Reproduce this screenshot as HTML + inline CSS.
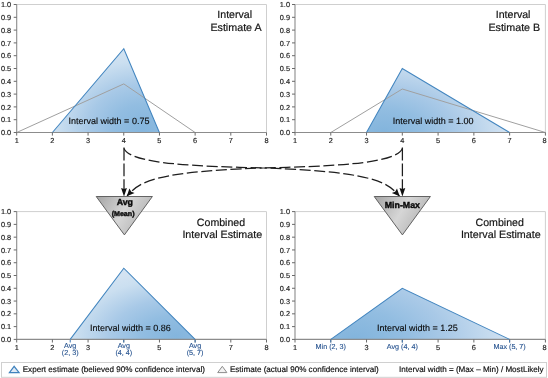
<!DOCTYPE html>
<html><head><meta charset="utf-8"><title>Interval estimates</title>
<style>
html,body{margin:0;padding:0;background:#fff;}
svg{display:block;font-family:"Liberation Sans",Arial,sans-serif;text-rendering:geometricPrecision;}
.t{font-size:7.35px;fill:#1a1a1a;stroke:#1a1a1a;stroke-width:0.15px;}
.b{font-size:7.2px;fill:#25528f;stroke:#25528f;stroke-width:0.12px;}
.h{font-size:10.6px;fill:#141414;stroke:#141414;stroke-width:0.18px;}
.w{font-size:9px;fill:#0a0a0a;stroke:#0a0a0a;stroke-width:0.13px;}
.l{font-size:8.1px;fill:#0a0a0a;stroke:#0a0a0a;stroke-width:0.15px;}
.n{font-weight:bold;fill:#0a0a0a;stroke:#0a0a0a;stroke-width:0.4px;}
</style></head><body>
<svg width="548" height="378" viewBox="0 0 548 378">
<defs>
<radialGradient id="gA" cx="0.85" cy="0.95" r="0.95"><stop offset="0" stop-color="#84b5dd"/><stop offset="0.3" stop-color="#92bde1"/><stop offset="0.55" stop-color="#a8c9e7"/><stop offset="0.85" stop-color="#cbdff0"/><stop offset="1" stop-color="#d3e3f2"/></radialGradient>
<radialGradient id="gB" gradientUnits="userSpaceOnUse" cx="384" cy="132.5" r="130" gradientTransform="translate(0 132.5) scale(1 0.615) translate(0 -132.5)"><stop offset="0" stop-color="#82b4dc"/><stop offset="0.3" stop-color="#92bde1"/><stop offset="0.55" stop-color="#a9c9e7"/><stop offset="0.8" stop-color="#c4daee"/><stop offset="1" stop-color="#d8e6f4"/></radialGradient>
<radialGradient id="gC" cx="0.85" cy="0.95" r="0.95"><stop offset="0" stop-color="#84b5dd"/><stop offset="0.3" stop-color="#92bde1"/><stop offset="0.55" stop-color="#a8c9e7"/><stop offset="0.85" stop-color="#cbdff0"/><stop offset="1" stop-color="#d3e3f2"/></radialGradient>
<radialGradient id="gD" gradientUnits="userSpaceOnUse" cx="355" cy="339.4" r="165" gradientTransform="translate(0 339.4) scale(1 0.588) translate(0 -339.4)"><stop offset="0" stop-color="#82b4dc"/><stop offset="0.3" stop-color="#92bde1"/><stop offset="0.55" stop-color="#a9c9e7"/><stop offset="0.8" stop-color="#c4daee"/><stop offset="1" stop-color="#d8e6f4"/></radialGradient>
<linearGradient id="gN" x1="0" y1="0" x2="1" y2="0.4"><stop offset="0" stop-color="#a4a4a4"/><stop offset="0.55" stop-color="#d6d6d6"/><stop offset="1" stop-color="#b4b4b4"/></linearGradient>
</defs>
<rect width="548" height="378" fill="#fff"/>
<path d="M16.7 4.5 H266.5 V132.5" fill="none" stroke="#cfcfcf" stroke-width="1"/>
<polygon points="52.4,132.5 123.8,48.7 159.4,132.5" fill="url(#gA)" stroke="none"/>
<polyline points="16.7,132.5 123.8,83.9 195.1,132.5" fill="none" stroke="#a0a0a0" stroke-width="1"/>
<path d="M16.7 4.5 V132.5 H266.5" fill="none" stroke="#8c8c8c" stroke-width="1.1"/>
<polyline points="52.4,132.5 123.8,48.7 159.4,132.5" fill="none" stroke="#4285bf" stroke-width="1.05" stroke-linejoin="miter"/>
<path d="M13.7 4.50H16.7M13.7 17.30H16.7M13.7 30.10H16.7M13.7 42.90H16.7M13.7 55.70H16.7M13.7 68.50H16.7M13.7 81.30H16.7M13.7 94.10H16.7M13.7 106.90H16.7M13.7 119.70H16.7M13.7 132.50H16.7M16.70 132.5V135.6M52.39 132.5V135.6M88.07 132.5V135.6M123.76 132.5V135.6M159.44 132.5V135.6M195.13 132.5V135.6M230.81 132.5V135.6M266.50 132.5V135.6" stroke="#6a6a6a" stroke-width="1" fill="none"/>
<text x="11.2" y="7.1" text-anchor="end" class="t">1.0</text>
<text x="11.2" y="19.9" text-anchor="end" class="t">0.9</text>
<text x="11.2" y="32.7" text-anchor="end" class="t">0.8</text>
<text x="11.2" y="45.5" text-anchor="end" class="t">0.7</text>
<text x="11.2" y="58.3" text-anchor="end" class="t">0.6</text>
<text x="11.2" y="71.1" text-anchor="end" class="t">0.5</text>
<text x="11.2" y="83.9" text-anchor="end" class="t">0.4</text>
<text x="11.2" y="96.7" text-anchor="end" class="t">0.3</text>
<text x="11.2" y="109.5" text-anchor="end" class="t">0.2</text>
<text x="11.2" y="122.3" text-anchor="end" class="t">0.1</text>
<text x="11.2" y="135.1" text-anchor="end" class="t">0.0</text>
<text x="16.7" y="142.7" text-anchor="middle" class="t">1</text>
<text x="52.4" y="142.7" text-anchor="middle" class="t">2</text>
<text x="88.1" y="142.7" text-anchor="middle" class="t">3</text>
<text x="123.8" y="142.7" text-anchor="middle" class="t">4</text>
<text x="159.4" y="142.7" text-anchor="middle" class="t">5</text>
<text x="195.1" y="142.7" text-anchor="middle" class="t">6</text>
<text x="230.8" y="142.7" text-anchor="middle" class="t">7</text>
<text x="266.5" y="142.7" text-anchor="middle" class="t">8</text>
<text x="234.7" y="18.4" text-anchor="middle" class="h">Interval</text>
<text x="236.0" y="31.2" text-anchor="middle" class="h" style="font-size:10.72px">Estimate A</text>
<text x="68.6" y="124.1" class="w">Interval width = 0.75</text>
<path d="M295.0 4.5 H545.4 V132.5" fill="none" stroke="#cfcfcf" stroke-width="1"/>
<polygon points="366.5,132.5 402.3,68.5 509.6,132.5" fill="url(#gB)" stroke="none"/>
<polyline points="330.8,132.5 402.3,89.0 545.4,132.5" fill="none" stroke="#a0a0a0" stroke-width="1"/>
<path d="M295.0 4.5 V132.5 H545.4" fill="none" stroke="#8c8c8c" stroke-width="1.1"/>
<polyline points="366.5,132.5 402.3,68.5 509.6,132.5" fill="none" stroke="#4285bf" stroke-width="1.05" stroke-linejoin="miter"/>
<path d="M292.0 4.50H295.0M292.0 17.30H295.0M292.0 30.10H295.0M292.0 42.90H295.0M292.0 55.70H295.0M292.0 68.50H295.0M292.0 81.30H295.0M292.0 94.10H295.0M292.0 106.90H295.0M292.0 119.70H295.0M292.0 132.50H295.0M295.00 132.5V135.6M330.77 132.5V135.6M366.54 132.5V135.6M402.31 132.5V135.6M438.09 132.5V135.6M473.86 132.5V135.6M509.63 132.5V135.6M545.40 132.5V135.6" stroke="#6a6a6a" stroke-width="1" fill="none"/>
<text x="290.0" y="7.1" text-anchor="end" class="t">1.0</text>
<text x="290.0" y="19.9" text-anchor="end" class="t">0.9</text>
<text x="290.0" y="32.7" text-anchor="end" class="t">0.8</text>
<text x="290.0" y="45.5" text-anchor="end" class="t">0.7</text>
<text x="290.0" y="58.3" text-anchor="end" class="t">0.6</text>
<text x="290.0" y="71.1" text-anchor="end" class="t">0.5</text>
<text x="290.0" y="83.9" text-anchor="end" class="t">0.4</text>
<text x="290.0" y="96.7" text-anchor="end" class="t">0.3</text>
<text x="290.0" y="109.5" text-anchor="end" class="t">0.2</text>
<text x="290.0" y="122.3" text-anchor="end" class="t">0.1</text>
<text x="290.0" y="135.1" text-anchor="end" class="t">0.0</text>
<text x="295.0" y="142.7" text-anchor="middle" class="t">1</text>
<text x="330.8" y="142.7" text-anchor="middle" class="t">2</text>
<text x="366.5" y="142.7" text-anchor="middle" class="t">3</text>
<text x="402.3" y="142.7" text-anchor="middle" class="t">4</text>
<text x="438.1" y="142.7" text-anchor="middle" class="t">5</text>
<text x="473.9" y="142.7" text-anchor="middle" class="t">6</text>
<text x="509.6" y="142.7" text-anchor="middle" class="t">7</text>
<text x="544.6" y="142.7" text-anchor="middle" class="t">8</text>
<text x="513.1" y="18.4" text-anchor="middle" class="h">Interval</text>
<text x="514.3" y="31.2" text-anchor="middle" class="h" style="font-size:10.72px">Estimate B</text>
<text x="392.8" y="124.1" class="w">Interval width = 1.00</text>
<path d="M16.7 211.6 H266.5 V339.4" fill="none" stroke="#cfcfcf" stroke-width="1"/>
<polygon points="70.2,339.4 123.8,268.2 195.1,339.4" fill="url(#gC)" stroke="none"/>
<path d="M16.7 211.6 V339.4 H266.5" fill="none" stroke="#8c8c8c" stroke-width="1.1"/>
<polyline points="70.2,339.4 123.8,268.2 195.1,339.4" fill="none" stroke="#4285bf" stroke-width="1.05" stroke-linejoin="miter"/>
<path d="M13.7 211.60H16.7M13.7 224.38H16.7M13.7 237.16H16.7M13.7 249.94H16.7M13.7 262.72H16.7M13.7 275.50H16.7M13.7 288.28H16.7M13.7 301.06H16.7M13.7 313.84H16.7M13.7 326.62H16.7M13.7 339.40H16.7M16.70 339.4V342.5M52.39 339.4V342.5M88.07 339.4V342.5M123.76 339.4V342.5M159.44 339.4V342.5M195.13 339.4V342.5M230.81 339.4V342.5M266.50 339.4V342.5" stroke="#6a6a6a" stroke-width="1" fill="none"/>
<text x="11.2" y="214.2" text-anchor="end" class="t">1.0</text>
<text x="11.2" y="227.0" text-anchor="end" class="t">0.9</text>
<text x="11.2" y="239.8" text-anchor="end" class="t">0.8</text>
<text x="11.2" y="252.5" text-anchor="end" class="t">0.7</text>
<text x="11.2" y="265.3" text-anchor="end" class="t">0.6</text>
<text x="11.2" y="278.1" text-anchor="end" class="t">0.5</text>
<text x="11.2" y="290.9" text-anchor="end" class="t">0.4</text>
<text x="11.2" y="303.7" text-anchor="end" class="t">0.3</text>
<text x="11.2" y="316.4" text-anchor="end" class="t">0.2</text>
<text x="11.2" y="329.2" text-anchor="end" class="t">0.1</text>
<text x="11.2" y="342.0" text-anchor="end" class="t">0.0</text>
<text x="16.7" y="349.6" text-anchor="middle" class="t">1</text>
<text x="52.4" y="349.6" text-anchor="middle" class="t">2</text>
<text x="88.1" y="349.6" text-anchor="middle" class="t">3</text>
<text x="159.4" y="349.6" text-anchor="middle" class="t">5</text>
<text x="230.8" y="349.6" text-anchor="middle" class="t">7</text>
<text x="266.5" y="349.6" text-anchor="middle" class="t">8</text>
<path d="M70.23 340.0V342.5" stroke="#3f78b4" stroke-width="1" fill="none"/>
<text x="70.2" y="348.0" text-anchor="middle" class="b">Avg</text>
<text x="70.2" y="355.4" text-anchor="middle" class="b">(2, 3)</text>
<path d="M123.76 340.0V342.5" stroke="#3f78b4" stroke-width="1" fill="none"/>
<text x="123.8" y="348.0" text-anchor="middle" class="b">Avg</text>
<text x="123.8" y="355.4" text-anchor="middle" class="b">(4, 4)</text>
<path d="M195.13 340.0V342.5" stroke="#3f78b4" stroke-width="1" fill="none"/>
<text x="195.1" y="348.0" text-anchor="middle" class="b">Avg</text>
<text x="195.1" y="355.4" text-anchor="middle" class="b">(5, 7)</text>
<text x="221.0" y="225.5" text-anchor="middle" class="h">Combined</text>
<text x="222.3" y="238.3" text-anchor="middle" class="h" style="font-size:10.72px">Interval Estimate</text>
<text x="89.9" y="330.8" class="w">Interval width = 0.86</text>
<path d="M295.0 211.6 H545.4 V339.4" fill="none" stroke="#cfcfcf" stroke-width="1"/>
<polygon points="330.8,339.4 402.3,288.3 509.6,339.4" fill="url(#gD)" stroke="none"/>
<path d="M295.0 211.6 V339.4 H545.4" fill="none" stroke="#8c8c8c" stroke-width="1.1"/>
<polyline points="330.8,339.4 402.3,288.3 509.6,339.4" fill="none" stroke="#4285bf" stroke-width="1.05" stroke-linejoin="miter"/>
<path d="M292.0 211.60H295.0M292.0 224.38H295.0M292.0 237.16H295.0M292.0 249.94H295.0M292.0 262.72H295.0M292.0 275.50H295.0M292.0 288.28H295.0M292.0 301.06H295.0M292.0 313.84H295.0M292.0 326.62H295.0M292.0 339.40H295.0M295.00 339.4V342.5M330.77 339.4V342.5M366.54 339.4V342.5M402.31 339.4V342.5M438.09 339.4V342.5M473.86 339.4V342.5M509.63 339.4V342.5M545.40 339.4V342.5" stroke="#6a6a6a" stroke-width="1" fill="none"/>
<text x="290.0" y="214.2" text-anchor="end" class="t">1.0</text>
<text x="290.0" y="227.0" text-anchor="end" class="t">0.9</text>
<text x="290.0" y="239.8" text-anchor="end" class="t">0.8</text>
<text x="290.0" y="252.5" text-anchor="end" class="t">0.7</text>
<text x="290.0" y="265.3" text-anchor="end" class="t">0.6</text>
<text x="290.0" y="278.1" text-anchor="end" class="t">0.5</text>
<text x="290.0" y="290.9" text-anchor="end" class="t">0.4</text>
<text x="290.0" y="303.7" text-anchor="end" class="t">0.3</text>
<text x="290.0" y="316.4" text-anchor="end" class="t">0.2</text>
<text x="290.0" y="329.2" text-anchor="end" class="t">0.1</text>
<text x="290.0" y="342.0" text-anchor="end" class="t">0.0</text>
<text x="295.0" y="349.6" text-anchor="middle" class="t">1</text>
<text x="366.5" y="349.6" text-anchor="middle" class="t">3</text>
<text x="438.1" y="349.6" text-anchor="middle" class="t">5</text>
<text x="473.9" y="349.6" text-anchor="middle" class="t">6</text>
<text x="544.6" y="349.6" text-anchor="middle" class="t">8</text>
<path d="M330.77 340.0V342.5" stroke="#3f78b4" stroke-width="1" fill="none"/>
<text x="330.8" y="349.4" text-anchor="middle" class="b">Min (2, 3)</text>
<path d="M402.31 340.0V342.5" stroke="#3f78b4" stroke-width="1" fill="none"/>
<text x="402.3" y="349.4" text-anchor="middle" class="b">Avg (4, 4)</text>
<path d="M509.63 340.0V342.5" stroke="#3f78b4" stroke-width="1" fill="none"/>
<text x="509.6" y="349.4" text-anchor="middle" class="b">Max (5, 7)</text>
<text x="499.7" y="225.5" text-anchor="middle" class="h">Combined</text>
<text x="500.8" y="238.3" text-anchor="middle" class="h" style="font-size:10.72px">Interval Estimate</text>
<text x="376.9" y="330.6" class="w">Interval width = 1.25</text>
<!-- arrows -->
<g fill="none" stroke="#1e1e1e" stroke-width="1.25">
<path d="M124 147.6V190" stroke-dasharray="12.8 3"/>
<path d="M402.4 147.6V190" stroke-dasharray="12.8 3"/>
<path d="M124 148.4C130.5 164.7 201.5 166.15 263.2 168" stroke-dasharray="11 3.6" stroke-dashoffset="1"/>
<path d="M402.4 148.4C395.9 164.7 324.9 166.15 263.2 168" stroke-dasharray="11 3.6" stroke-dashoffset="1"/>
<path d="M127 195.9C137.9 186 140.4 171.7 263.2 168" stroke-dasharray="11 3.6" stroke-dashoffset="7.2"/>
<path d="M399.5 195.9C388.5 186 386 171.7 263.2 168" stroke-dasharray="11 3.6" stroke-dashoffset="7.2"/>
</g>
<g fill="#111" stroke="none">
<polygon points="124,196.4 121.1,188 124,189 126.9,188"/>
<polygon points="402.4,196.4 399.5,188 402.4,189 405.3,188"/>
<polygon points="126.8,196.2 129.4,188.4 131.3,191.7 134.6,192.9"/>
<polygon points="399.6,196.2 397,188.4 395.1,191.7 391.8,192.9"/>
</g>
<!-- nodes -->
<polygon points="96.2,196.5 152.4,196.5 124.4,234.9" fill="url(#gN)" stroke="#555" stroke-width="0.9"/>
<polygon points="374.2,196.5 430.4,196.5 402.4,234.9" fill="url(#gN)" stroke="#555" stroke-width="0.9"/>
<text x="124.8" y="204.7" text-anchor="middle" class="n" font-size="8.8">Avg</text>
<text x="123.1" y="215.9" text-anchor="middle" class="n" font-size="7.1">(Mean)</text>
<text x="402.4" y="207.9" text-anchor="middle" class="n" font-size="8.8">Min-Max</text>
<!-- legend -->
<rect x="1.5" y="362.5" width="545" height="14.8" fill="#fff" stroke="#d0d0d0" stroke-width="1"/>
<polygon points="14.1,366.3 9.4,372.6 19.1,372.6" fill="#dfeaf6" stroke="#3f82bd" stroke-width="1.2"/>
<text x="22.7" y="372.0" class="l">Expert estimate (believed 90% confidence interval)</text>
<polygon points="222.3,366.3 217.7,372.6 226.9,372.6" fill="#f2f2f2" stroke="#8c8c8c" stroke-width="1"/>
<text x="229.9" y="372.0" class="l">Estimate (actual 90% confidence interval)</text>
<text x="399" y="372.0" class="l">Interval width = (Max – Min) / MostLikely</text>
</svg>
</body></html>
